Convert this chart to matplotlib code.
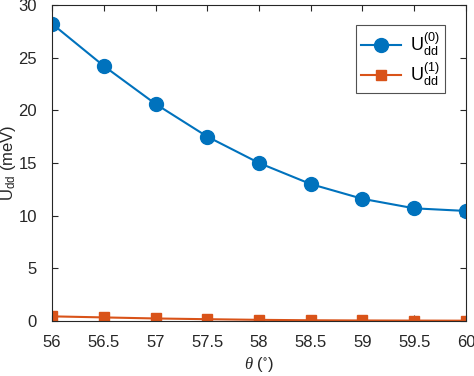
import numpy as np
import matplotlib
matplotlib.use('Agg')
import matplotlib.pyplot as plt

plt.rcParams['font.family']='Liberation Sans'
plt.rcParams['mathtext.fontset']='custom'
plt.rcParams['mathtext.rm']='Liberation Sans'
plt.rcParams['mathtext.it']='Liberation Serif:italic'

theta=[56,56.5,57,57.5,58,58.5,59,59.5,60]
U0=[28.2,24.2,20.6,17.5,15.0,13.0,11.6,10.7,10.45]
U1=[0.45,0.35,0.25,0.18,0.12,0.08,0.06,0.05,0.04]

blue='#0072BD'
orange='#D95319'

fig=plt.figure(figsize=(4.74,3.76),dpi=100)
ax=fig.add_axes([0.110,0.146,0.873,0.841])
ax.plot(theta,U0,'-o',color=blue,lw=1.5,ms=10,label=r'$\mathregular{U_{dd}^{(0)}}$')
ax.plot(theta,U1,'-s',color=orange,lw=1.5,ms=7,label=r'$\mathregular{U_{dd}^{(1)}}$')

ax.set_xlim(56,60)
ax.set_ylim(0,30)
ax.set_xticks(theta)
ax.set_xticklabels(['56','56.5','57','57.5','58','58.5','59','59.5','60'])
ax.set_yticks([0,5,10,15,20,25,30])
ax.tick_params(direction='in',top=True,right=True,labelsize=12,length=4,colors='#262626')
ax.tick_params(axis='x',pad=10)
ax.tick_params(axis='y',pad=11)
for s in ax.spines.values():
  s.set_color('#262626')
  s.set_linewidth(0.8)
ax.set_xlabel(r'$\theta$ ($\mathregular{^{\circ}}$)',fontsize=12,color='#262626')
ax.set_ylabel(r'$\mathregular{U_{dd}}$ (meV)',fontsize=12,color='#262626')
ax.xaxis.set_label_coords(0.5,-0.108)
ax.yaxis.set_label_coords(-0.082,0.5)

leg=ax.legend(loc='upper right',bbox_to_anchor=(0.95,0.935),borderaxespad=0,fontsize=13,fancybox=False,edgecolor='#262626',handlelength=2.2,borderpad=0.3,labelspacing=0.15,handletextpad=0.5)
leg.get_frame().set_linewidth(0.8)

plt.savefig('out.png',dpi=100)
